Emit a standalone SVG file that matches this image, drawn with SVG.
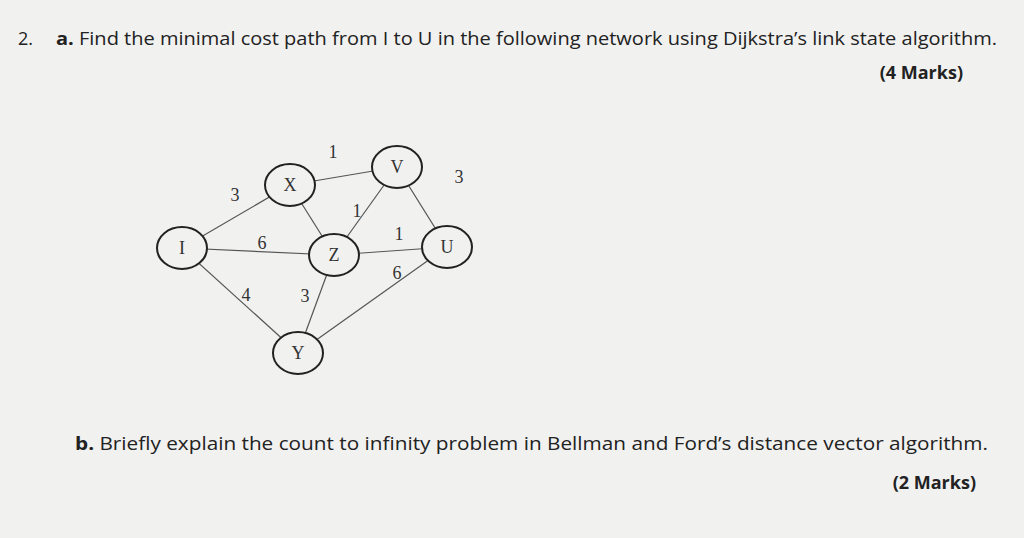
<svg xmlns="http://www.w3.org/2000/svg" width="1024" height="538" viewBox="0 0 1024 538">
<style>
.t{font-family:"Open Sans","Liberation Sans",sans-serif;font-size:18px;fill:#222}
.b{font-weight:bold}
.n ellipse{fill:#f1f1f0;stroke:#222;stroke-width:2}
.n text,.w{font-family:"Liberation Serif","DejaVu Serif",serif;font-size:18px;fill:#333;text-anchor:middle}
#edges line{stroke:#555;stroke-width:1.2}
</style>
<rect width="1024" height="538" fill="#f1f1f0"/>
<text class="t" x="18" y="45">2.</text>
<text class="t" x="56" y="45" textLength="941" lengthAdjust="spacingAndGlyphs"><tspan class="b">a.</tspan> Find the minimal cost path from I to U in the following network using Dijkstra’s link state algorithm.</text>
<text class="t b" x="963" y="79" text-anchor="end">(4 Marks)</text>
<text class="t" x="75" y="450" textLength="913" lengthAdjust="spacingAndGlyphs"><tspan class="b">b.</tspan> Briefly explain the count to infinity problem in Bellman and Ford’s distance vector algorithm.</text>
<text class="t b" x="976" y="489" text-anchor="end">(2 Marks)</text>
<g id="edges">
<line x1="182" y1="248" x2="290" y2="185"/>
<line x1="182" y1="248" x2="334" y2="255"/>
<line x1="182" y1="248" x2="298" y2="353"/>
<line x1="290" y1="185" x2="397" y2="167"/>
<line x1="290" y1="185" x2="334" y2="255"/>
<line x1="397" y1="167" x2="334" y2="255"/>
<line x1="397" y1="167" x2="447" y2="247"/>
<line x1="334" y1="255" x2="447" y2="247"/>
<line x1="334" y1="255" x2="298" y2="353"/>
<line x1="298" y1="353" x2="447" y2="247"/>
</g>
<g id="weights">
<text class="w" x="333" y="158">1</text>
<text class="w" x="235" y="201">3</text>
<text class="w" x="357" y="217">1</text>
<text class="w" x="262" y="249">6</text>
<text class="w" x="399" y="240">1</text>
<text class="w" x="397" y="279">6</text>
<text class="w" x="246" y="301">4</text>
<text class="w" x="305" y="302">3</text>
<text class="w" x="459" y="183">3</text>
</g>
<g id="node-I" class="n"><ellipse cx="182" cy="248" rx="25" ry="21"/><text x="182" y="254">I</text></g>
<g id="node-X" class="n"><ellipse cx="290" cy="185" rx="25" ry="21"/><text x="290" y="191">X</text></g>
<g id="node-V" class="n"><ellipse cx="397" cy="167" rx="25" ry="21"/><text x="397" y="173">V</text></g>
<g id="node-Z" class="n"><ellipse cx="334" cy="255" rx="25" ry="21"/><text x="334" y="261">Z</text></g>
<g id="node-U" class="n"><ellipse cx="447" cy="247" rx="25" ry="21"/><text x="447" y="253">U</text></g>
<g id="node-Y" class="n"><ellipse cx="298" cy="353" rx="25" ry="21"/><text x="298" y="359">Y</text></g>
</svg>
